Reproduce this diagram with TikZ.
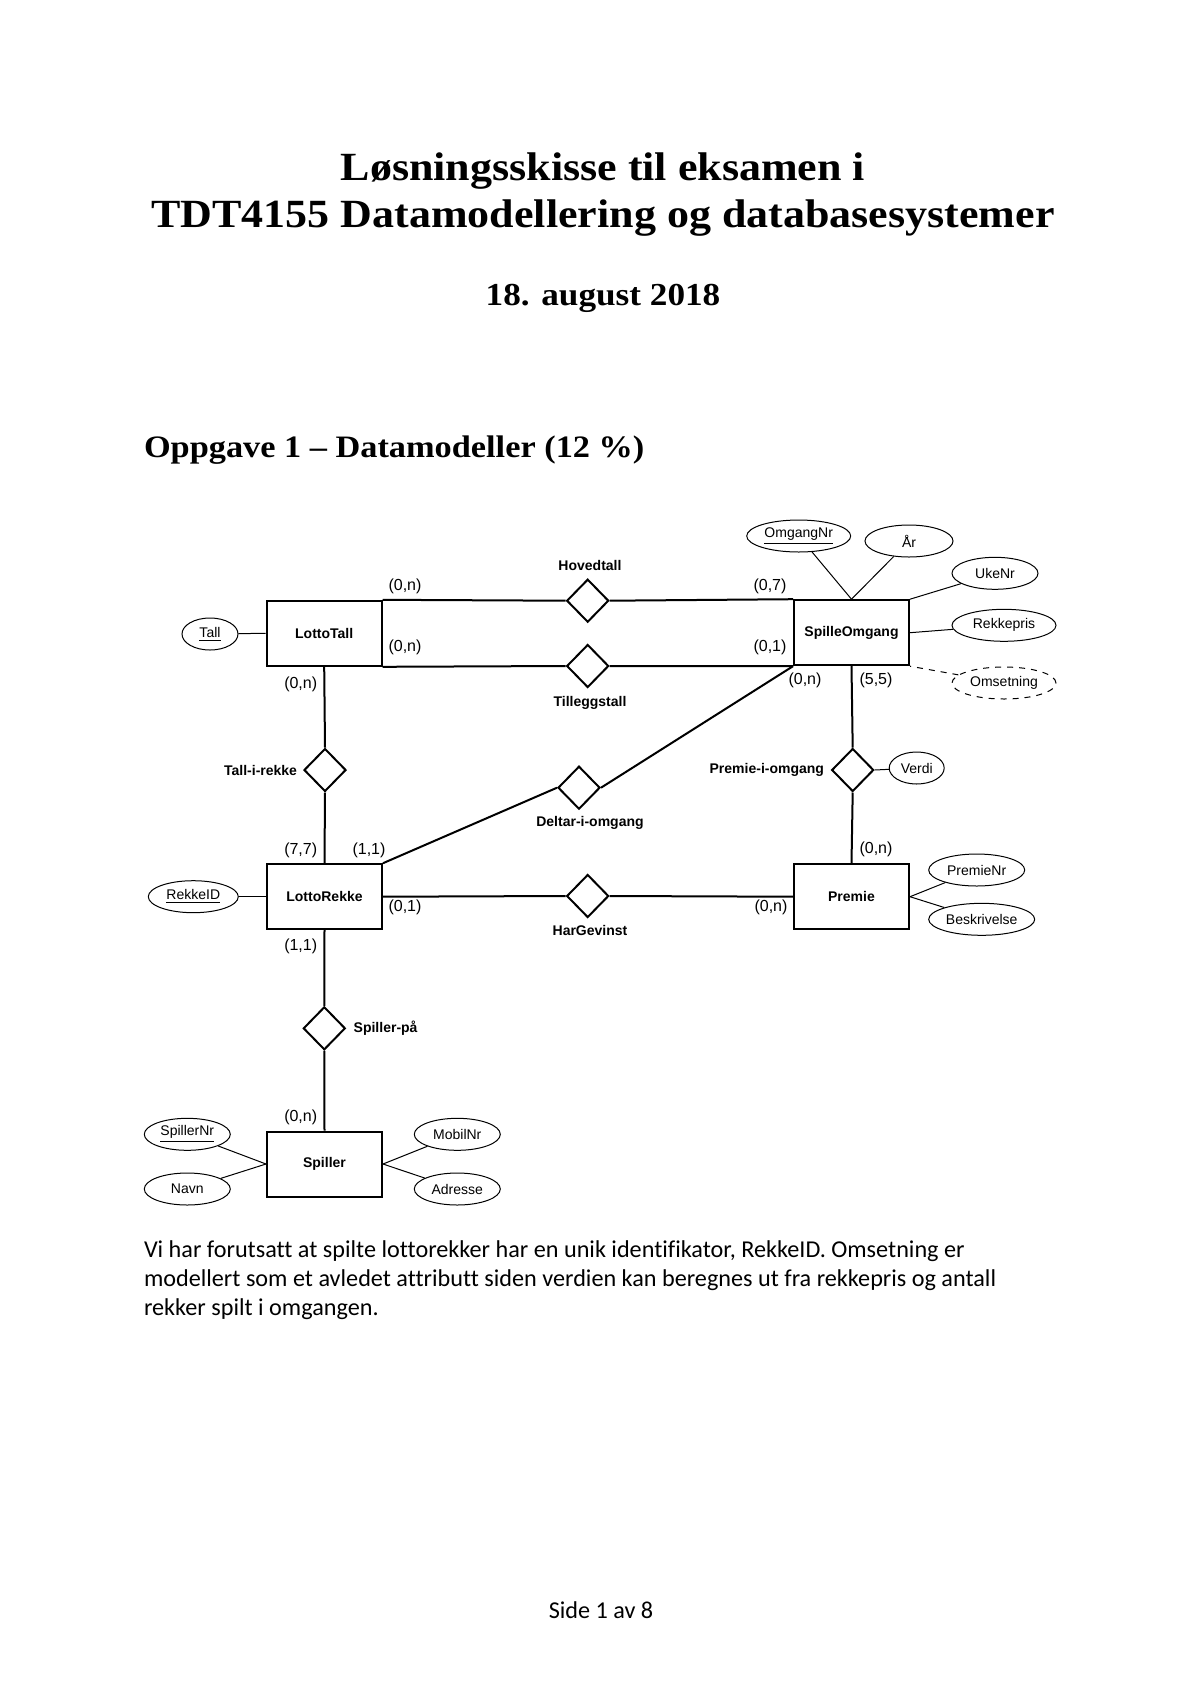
\documentclass[tikz,border=0pt]{standalone}
\usepackage{fontspec}
\setmainfont{Carlito}[Ligatures=CommonOff]
\newfontfamily\headfont[FakeStretch=1.1]{Liberation Serif}
\newfontfamily\erfont{Liberation Sans}
\usetikzlibrary{shapes.geometric}

\tikzset{every picture/.style={line width=1pt}}
\tikzset{
  entity/.style={draw, line width=1pt, minimum width=57.5pt, minimum height=32.5pt, inner sep=0pt, font=\erfont\bfseries\fontsize{7}{8}\selectfont},
  relation/.style={draw, diamond, line width=1pt, minimum width=21pt, minimum height=21.5pt, inner sep=0pt},
  rellabel/.style={inner sep=0pt, font=\erfont\bfseries\fontsize{7}{8}\selectfont},
  attrib/.style={draw, ellipse, line width=0.5pt, minimum height=16pt, inner sep=0pt, font=\erfont\fontsize{7}{8}\selectfont},
  card/.style={inner sep=0pt, font=\erfont\fontsize{8}{9}\selectfont},
  link/.style={line width=1pt},
  attrlink/.style={line width=0.5pt},
  pagetext/.style={inner sep=0pt, anchor=base},
}

\begin{document}
\begin{tikzpicture}[x=0.5pt,y=0.5pt,yscale=-1]
\useasboundingbox (0,0) rectangle (1200,1698);

% Text Node
\node (title1) [pagetext] at (603,180) {\headfont\bfseries\fontsize{20}{24}\selectfont Løsningsskisse til eksamen i};
% Text Node
\node (title2) [pagetext] at (603,227) {\headfont\bfseries\fontsize{20}{24}\selectfont TDT4155 Datamodellering og databasesystemer};
% Text Node
\node (date) [pagetext] at (603,305) {\headfont\bfseries\fontsize{16}{19}\selectfont 18. august 2018};
% Text Node
\node (oppgave) [pagetext, anchor=base west] at (143,457) {\headfont\bfseries\fontsize{15.6}{19}\selectfont Oppgave 1 – Datamodeller (12 \%)};

%Shape: Entities
\node (LottoTall) [entity] at (324.2,633.3) {LottoTall};
\node (SpilleOmgang) [entity] at (851.5,632.7) {SpilleOmgang};
\node (LottoRekke) [entity] at (324.5,896.7) {LottoRekke};
\node (Premie) [entity] at (851.5,896.7) {Premie};
\node (Spiller) [entity] at (324.5,1164) {Spiller};

%Shape: Relationships
\node (Hovedtall) [relation] at (587.7,600.7) {};
\node (Tilleggstall) [relation] at (587.7,666) {};
\node (TallIRekke) [relation] at (325,770) {};
\node (DeltarIOmgang) [relation] at (579,787.7) {};
\node (PremieIOmgang) [relation] at (852.7,770) {};
\node (HarGevinst) [relation] at (587.7,896) {};
\node (SpillerPaa) [relation] at (324.3,1028.3) {};

% Text Node
\node (lblHovedtall) [rellabel] at (590,565) {Hovedtall};
\node (lblTilleggstall) [rellabel] at (590,703) {Tilleggstall};
\node (lblTallIRekke) [rellabel, anchor=east] at (298,770) {Tall-i-rekke};
\node (lblDeltar) [rellabel] at (590,823.3) {Deltar-i-omgang};
\node (lblPremieIOmgang) [rellabel, anchor=east] at (825,770) {Premie-i-omgang};
\node (lblHarGevinst) [rellabel] at (590,930.7) {HarGevinst};
\node (lblSpillerPaa) [rellabel, anchor=west] at (352.7,1028.3) {Spiller-på};

%Shape: Attributes
\node (Tall) [attrib, minimum width=28pt] at (210,634) {\underline{Tall}};
\node (OmgangNr) [attrib, minimum width=52pt] at (798.7,536) {\underline{OmgangNr}};
\node (Aar) [attrib, minimum width=44pt] at (909,541) {År};
\node (UkeNr) [attrib, minimum width=43pt] at (995,573.3) {UkeNr};
\node (Rekkepris) [attrib, minimum width=52pt] at (1004,625.3) {Rekkepris};
\node (Omsetning) [attrib, dashed, minimum width=52pt] at (1004,683) {Omsetning};
\node (Verdi) [attrib, minimum width=27.5pt] at (916.7,768) {Verdi};
\node (RekkeID) [attrib, minimum width=45pt] at (193.3,896.7) {\underline{RekkeID}};
\node (PremieNr) [attrib, minimum width=48pt] at (976.7,870) {PremieNr};
\node (Beskrivelse) [attrib, minimum width=53pt] at (981.7,919.3) {Beskrivelse};
\node (SpillerNr) [attrib, minimum width=43pt] at (187.3,1134.3) {\underline{SpillerNr}};
\node (Navn) [attrib, minimum width=43pt] at (187.3,1189) {Navn};
\node (MobilNr) [attrib, minimum width=43pt] at (457.3,1134.3) {MobilNr};
\node (Adresse) [attrib, minimum width=43pt] at (457.3,1189) {Adresse};

%Straight Lines: relationships
\draw [link] (LottoTall.north east) -- (Hovedtall.west);
\draw [link] (Hovedtall.east) -- (SpilleOmgang.north west);
\draw [link] (LottoTall.south east) -- (Tilleggstall.west);
\draw [link] (Tilleggstall.east) -- (SpilleOmgang.south west);
\draw [link] (LottoTall.south) -- (TallIRekke.north);
\draw [link] (TallIRekke.south) -- (LottoRekke.north);
\draw [link] (SpilleOmgang.south west) -- (DeltarIOmgang.east);
\draw [link] (DeltarIOmgang.west) -- (LottoRekke.north east);
\draw [link] (SpilleOmgang.south) -- (PremieIOmgang.north);
\draw [link] (PremieIOmgang.south) -- (Premie.north);
\draw [link] (LottoRekke.east) -- (HarGevinst.west);
\draw [link] (HarGevinst.east) -- (Premie.west);
\draw [link] (LottoRekke.south) -- (SpillerPaa.north);
\draw [link] (SpillerPaa.south) -- (Spiller.north);

%Straight Lines: attributes
\draw [attrlink] (Tall) -- (LottoTall.west);
\draw [attrlink] (OmgangNr) -- (SpilleOmgang.north);
\draw [attrlink] (Aar) -- (SpilleOmgang.north);
\draw [attrlink] (UkeNr) -- (SpilleOmgang.north east);
\draw [attrlink] (Rekkepris) -- (SpilleOmgang.east);
\draw [attrlink, dashed] (Omsetning) -- (SpilleOmgang.south east);
\draw [attrlink] (Verdi) -- (PremieIOmgang.east);
\draw [attrlink] (RekkeID) -- (LottoRekke.west);
\draw [attrlink] (PremieNr) -- (Premie.east);
\draw [attrlink] (Beskrivelse) -- (Premie.east);
\draw [attrlink] (SpillerNr) -- (Spiller.west);
\draw [attrlink] (Navn) -- (Spiller.west);
\draw [attrlink] (MobilNr) -- (Spiller.east);
\draw [attrlink] (Adresse) -- (Spiller.east);

% Text Node: cardinalities
\node (cHovLotto) [card] at (405,586.7) {(0,n)};
\node (cHovSpille) [card] at (770,586.7) {(0,7)};
\node (cTilLotto) [card] at (405,647) {(0,n)};
\node (cTilSpille) [card] at (770,647) {(0,1)};
\node (cTallLotto) [card] at (300.7,684) {(0,n)};
\node (cDeltSpille) [card] at (805,680) {(0,n)};
\node (cPremSpille) [card] at (876,680) {(5,5)};
\node (cTallRekke) [card] at (300.7,850) {(7,7)};
\node (cDeltRekke) [card] at (369,850) {(1,1)};
\node (cHarRekke) [card] at (405,907.7) {(0,1)};
\node (cHarPremie) [card] at (771,907.7) {(0,n)};
\node (cPremPremie) [card] at (876,849.3) {(0,n)};
\node (cSpRekke) [card] at (300.7,946.7) {(1,1)};
\node (cSpSpiller) [card] at (300.7,1117.3) {(0,n)};

% Text Node: paragraph
\node (para1) [pagetext, anchor=base west] at (143,1257) {\fontsize{12.1}{14.5}\selectfont Vi har forutsatt at spilte lottorekker har en unik identifikator, RekkeID. Omsetning er};
\node (para2) [pagetext, anchor=base west] at (143,1286) {\fontsize{12.1}{14.5}\selectfont modellert som et avledet attributt siden verdien kan beregnes ut fra rekkepris og antall};
\node (para3) [pagetext, anchor=base west] at (143,1315) {\fontsize{12.1}{14.5}\selectfont rekker spilt i omgangen.};

% Text Node
\node (footer) [pagetext] at (601,1618) {\fontsize{12.1}{14.5}\selectfont Side 1 av 8};

\end{tikzpicture}
\end{document}
